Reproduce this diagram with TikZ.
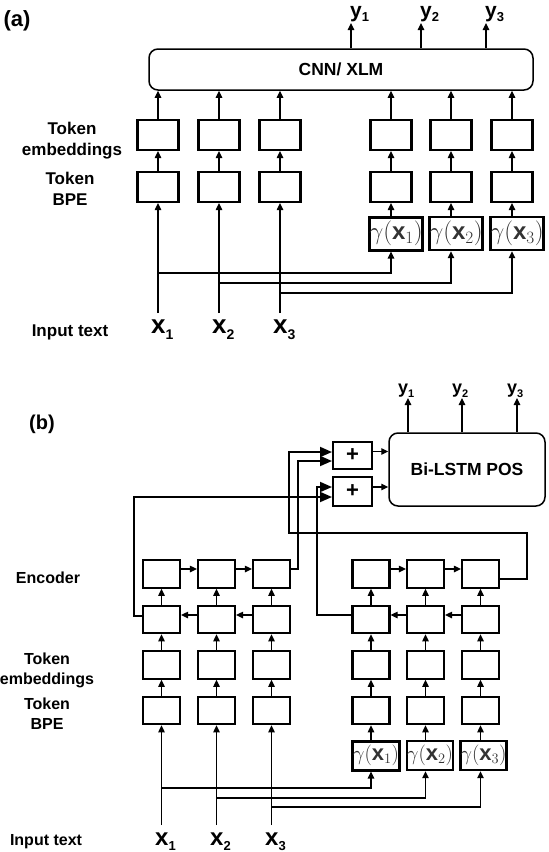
\documentclass[tikz,border=0pt]{standalone}
\usepackage{fontspec}
\setmainfont{Liberation Sans}
\usetikzlibrary{arrows.meta,calc}
\newcommand{\sublab}[5]{{\fontsize{#2}{#2}\selectfont #1}{\fontsize{#4}{#4}\selectfont\raisebox{-#5pt}{#3}}}
\begin{document}
\begin{tikzpicture}[x=1pt,y=-1pt,
 box/.style={draw,line width=2.2pt,minimum width=41pt,minimum height=30pt,inner sep=0pt},
 sbox/.style={draw,line width=2.2pt,minimum width=37pt,minimum height=27.5pt,inner sep=0pt},
 gam/.style={draw,line width=2.4pt,inner sep=0pt,text=black!80},
 conn/.style={line width=1.2pt,-{Triangle[length=7pt,width=6.5pt]}},
 bigconn/.style={line width=1.8pt,-{Triangle[length=12pt,width=10pt]}},
 lbl/.style={font=\bfseries\fontsize{17}{21}\selectfont,align=center,inner sep=0pt},
 slbl/.style={font=\bfseries\fontsize{16}{20}\selectfont,align=center,inner sep=0pt},
 var/.style={inner sep=0pt,font=\bfseries},
 rbox/.style={draw,line width=1.5pt,rounded corners=9pt,inner sep=0pt,font=\bfseries\fontsize{17.5}{17.5}\selectfont},
]
\useasboundingbox (0,0) rectangle (549,852);

% ---------------- (a) ----------------
\node[lbl,anchor=north] (alab) at (17,10) {\fontsize{22}{22}\selectfont (a)};
\node[rbox,minimum width=384pt,minimum height=41pt] (cnn) at (341,69.5) {CNN/ XLM};

\foreach \i/\c in {1/158,2/219,3/280,4/391,5/451,6/512}{
  \node[box] (ae\i) at (\c,135) {};
  \node[box] (ab\i) at (\c,187) {};
}
\node[gam,line width=3pt,minimum width=53pt,minimum height=33pt] (ag1) at (396,233.5) {\fontsize{24}{24}\selectfont$\gamma(\mathbf{x}_1)$};
\node[gam,minimum width=53pt,minimum height=33pt] (ag2) at (456,233.5) {\fontsize{24}{24}\selectfont$\gamma(\mathbf{x}_2)$};
\node[gam,minimum width=53pt,minimum height=33pt] (ag3) at (517,233.5) {\fontsize{24}{24}\selectfont$\gamma(\mathbf{x}_3)$};

\foreach \i in {1,...,6}{
  \draw[conn] (ae\i.north) -- (ae\i.north |- cnn.south);
  \draw[conn] (ab\i.north) -- (ae\i.south);
}
\foreach \i/\g in {4/1,5/2,6/3}{
  \draw[conn] (ab\i.center |- ag\g.north) -- (ab\i.south);
}

% outputs
\foreach \i/\c in {1/351,2/421,3/486}{
  \coordinate (ayt\i) at (\c,23);
  \draw[conn] (cnn.north -| ayt\i) -- (ayt\i);
  \node[var,anchor=base west] (ayl\i) at (\c-1,17) {\sublab{y}{21}{\i}{13}{4}};
}

% inputs
\node[lbl,anchor=north] (ainp) at (70,325) {Input text};
\node[lbl,anchor=north] (atemb) at (72,122) {Token\\embeddings};
\node[lbl,anchor=north] (atbpe) at (70,172) {Token\\BPE};
\foreach \i/\c/\h/\g in {1/158/273/4,2/219/283/5,3/280/293/6}{
  \coordinate (axs\i) at (\c,313);
  \coordinate (axj\i) at (\c,\h);
  \node[var,anchor=base west] (axl\i) at (\c-7,333) {\sublab{x}{26}{\i}{14}{6}};
  \draw[conn] (axs\i) -- (ab\i.south);
}
\draw[conn] (axj1) -| (ab4.center |- ag1.south);
\draw[conn] (axj2) -| (ab5.center |- ag2.south);
\draw[conn] (axj3) -| (ab6.center |- ag3.south);

% ---------------- (b) ----------------
\node[lbl,anchor=north] (blab) at (42,415) {\fontsize{20}{20}\selectfont (b)};
\node[rbox,minimum width=156pt,minimum height=73pt] (lstm) at (467,469.5) {Bi-LSTM POS};
\node[draw,line width=2pt,minimum width=39pt,minimum height=27pt,inner sep=0pt,font=\bfseries\fontsize{22}{22}\selectfont] (p1) at (352.5,455.5) {+};
\node[draw,line width=2pt,minimum width=39pt,minimum height=29pt,inner sep=0pt,font=\bfseries\fontsize{22}{22}\selectfont] (p2) at (352.5,491.5) {+};

\foreach \i/\c in {1/161.5,2/216.5,3/271.5,4/371,5/425.5,6/480.5}{
  \node[sbox] (bf\i) at (\c,574) {};
  \node[sbox] (bw\i) at (\c,619.5) {};
  \node[sbox] (be\i) at (\c,665) {};
  \node[sbox] (bb\i) at (\c,710.5) {};
}
\node[gam,line width=3pt,minimum width=47pt,minimum height=29pt] (bg1) at (376,755.5) {\fontsize{22}{22}\selectfont$\gamma(\mathbf{x}_1)$};
\node[gam,minimum width=46pt,minimum height=29pt] (bg2) at (430,755.5) {\fontsize{22}{22}\selectfont$\gamma(\mathbf{x}_2)$};
\node[gam,minimum width=44pt,minimum height=29pt] (bg3) at (483.5,755.5) {\fontsize{22}{22}\selectfont$\gamma(\mathbf{x}_3)$};

\foreach \i in {1,...,6}{
  \draw[conn] (bw\i.north) -- (bf\i.south);
  \draw[conn] (be\i.north) -- (bw\i.south);
  \draw[conn] (bb\i.north) -- (be\i.south);
}
\foreach \i/\g in {4/1,5/2,6/3}{
  \draw[conn] (bb\i.center |- bg\g.north) -- (bb\i.south);
}
% encoder recurrences
\foreach \a/\b in {1/2,2/3,4/5,5/6}{
  \draw[conn] ($(bf\a.east)+(0,-5)$) -- ($(bf\b.west)+(0,-5)$);
  \draw[conn] ($(bw\b.west)+(0,-4.5)$) -- ($(bw\a.east)+(0,-4.5)$);
}

% outputs
\foreach \i/\c in {1/408,2/462,3/517}{
  \coordinate (byt\i) at (\c,398);
  \draw[conn] (lstm.north -| byt\i) -- (byt\i);
  \node[var,anchor=base west] (byl\i) at (\c-10,393) {\sublab{y}{18}{\i}{11}{4.5}};
}
\coordinate (p1o) at ($(p1.east)+(0,-4)$);
\coordinate (p2o) at ($(p2.east)+(0,-4.5)$);
\draw[conn] (p1o) -- (p1o -| lstm.west);
\draw[conn] (p2o) -- (p2o -| lstm.west);

% skip connections to the adders
\coordinate (ka) at (527,533);
\coordinate (kb) at (289,533);
\coordinate (kc) at (298,569);
\coordinate (kd) at (317,615);
\coordinate (ke) at (134,616);
\draw[bigconn] ($(bf6.east)+(0,5)$) -| (ka) -- (kb) |- ($(p1.west)+(0,-3.5)$);
\draw[bigconn] ($(bf3.east)+(0,-5)$) -- (kc) |- ($(p1.west)+(0,5.5)$);
\draw[bigconn] ($(bw4.west)+(0,-4.5)$) -- (kd) |- ($(p2.west)+(0,-4.5)$);
\draw[bigconn] ($(bw1.west)+(0,-3.5)$) -- (ke) |- ($(p2.west)+(0,5.5)$);

% labels and inputs
\node[slbl,anchor=north] (benc) at (48,572) {Encoder};
\node[slbl,anchor=north] (btemb) at (47,653) {Token\\embeddings};
\node[slbl,anchor=north] (btbpe) at (47,698) {Token\\BPE};
\node[slbl,anchor=north] (binp) at (46,834) {Input text};
\foreach \i/\c/\h in {1/161.5/788,2/216.5/798,3/271.5/807}{
  \coordinate (bxs\i) at (\c,825);
  \coordinate (bxj\i) at (\c,\h);
  \node[var,anchor=base west] (bxl\i) at (\c-6.5,845) {\sublab{x}{24}{\i}{13}{5}};
  \draw[conn] (bxs\i) -- (bb\i.south);
}
\draw[conn] (bxj1) -| (bb4.center |- bg1.south);
\draw[conn] (bxj2) -| (bb5.center |- bg2.south);
\draw[conn] (bxj3) -| (bb6.center |- bg3.south);
\end{tikzpicture}
\end{document}
